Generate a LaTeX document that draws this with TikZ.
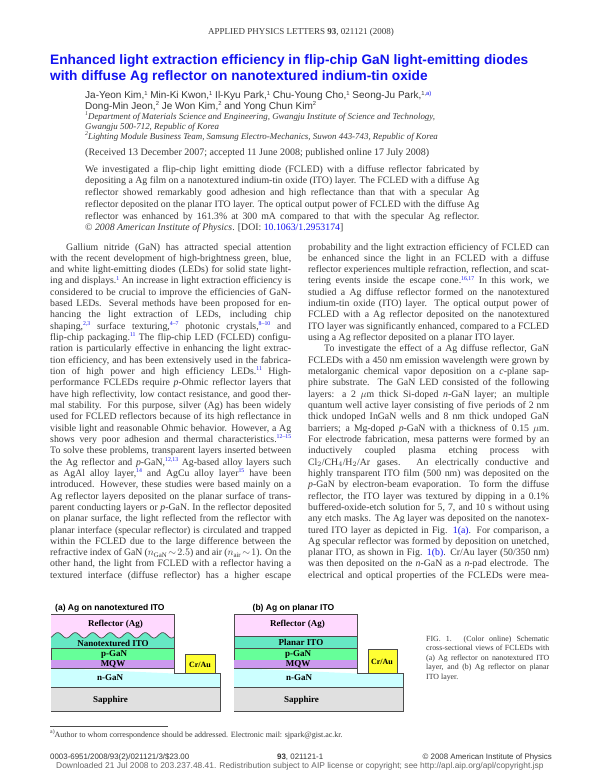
\documentclass[tikz,border=0pt]{standalone}
\usepackage{fontspec}
\setmainfont{Liberation Serif}
\setsansfont{Liberation Sans}
\usepackage{xcolor}
\usetikzlibrary{positioning,calc}
\definecolor{aipblue}{RGB}{20,20,240}
\definecolor{bodygray}{gray}{0.22}
\definecolor{reflpink}{RGB}{255,217,255}
\definecolor{itogreen}{RGB}{102,232,196}
\definecolor{pgangreen}{RGB}{102,255,153}
\definecolor{mqwpurple}{RGB}{204,153,238}
\definecolor{ngancyan}{RGB}{204,255,255}
\definecolor{sapphgray}{gray}{0.88}
\definecolor{padyellow}{RGB}{255,255,51}
\newcommand{\jl}[2][241pt]{\hbox to #1{\spaceskip=0pt\relax\xspaceskip=0pt\relax #2}}
\newcommand{\el}[1]{\hbox{\spaceskip=0pt\relax\xspaceskip=0pt\relax #1}}
\newcommand{\up}[1]{\raisebox{3.6pt}{\fontsize{5.8}{6}\selectfont #1}}
\newcommand{\rf}[1]{\up{\textcolor{aipblue}{#1}}}
\newcommand{\lk}[1]{\textcolor{aipblue}{#1}}
\lineskiplimit=-20pt
\tikzset{
  txt/.style={inner sep=0pt,anchor=base west,text=bodygray},
  column/.style={txt,text width=241pt,font=\fontsize{9.8}{11.32}\selectfont},
  abstr/.style={txt,text width=394pt,font=\fontsize{9.8}{11.75}\selectfont},
  capt/.style={txt,text width=123pt,font=\fontsize{7.85}{9.45}\selectfont},
  layer/.style={draw=black!70,line width=0.7pt},
  tag/.style={inner sep=0pt,text=black,font=\bfseries\fontsize{9}{10}\selectfont},
  padtag/.style={inner sep=0pt,text=black,font=\bfseries\fontsize{8}{9}\selectfont},
  figt/.style={inner sep=0pt,anchor=base west,text=black,font=\sffamily\bfseries\fontsize{8.5}{9}\selectfont}
}
\begin{document}
\begin{tikzpicture}[x=1pt,y=-1pt]
\useasboundingbox (0,0) rectangle (600,776);
\fill[white] (0,0) rectangle (600,776);
% head of the page
\node[txt,anchor=base,font=\fontsize{9}{10}\selectfont] (head) at (301,35) {APPLIED PHYSICS LETTERS \textbf{93}, 021121 (2008)};
\node[txt,text=aipblue,font=\sffamily\bfseries\fontsize{13.7}{16}\selectfont] (title1) at (50,64.5) {Enhanced light extraction efficiency in flip-chip GaN light-emitting diodes};
\node[txt,text=aipblue,font=\sffamily\bfseries\fontsize{13.7}{16}\selectfont] (title2) at (50,81) {with diffuse Ag reflector on nanotextured indium-tin oxide};
\node[txt,font=\sffamily\fontsize{10}{11}\selectfont] (auth1) at (85,99) {Ja-Yeon Kim,\up{1} Min-Ki Kwon,\up{1} Il-Kyu Park,\up{1} Chu-Young Cho,\up{1} Seong-Ju Park,\up{1,\textcolor{aipblue}{a)}}};
\node[txt,font=\sffamily\fontsize{10}{11}\selectfont] (auth2) at (85,109.5) {Dong-Min Jeon,\up{2} Je Won Kim,\up{2} and Yong Chun Kim\up{2}};
\node[txt,font=\itshape\fontsize{8.9}{10}\selectfont] (aff1) at (85,119.5) {\up{1}Department of Materials Science and Engineering, Gwangju Institute of Science and Technology,};
\node[txt,font=\itshape\fontsize{8.9}{10}\selectfont] (aff2) at (85,129) {Gwangju 500-712, Republic of Korea};
\node[txt,font=\itshape\fontsize{8.9}{10}\selectfont] (aff3) at (85,139) {\up{2}Lighting Module Business Team, Samsung Electro-Mechanics, Suwon 443-743, Republic of Korea};
\node[txt,font=\fontsize{10}{11}\selectfont] (recv) at (85,155.5) {(Received 13 December 2007; accepted 11 June 2008; published online 17 July 2008)};
\node[abstr] (abstract) at (85,172) {%
\jl[394pt]{We investigated a flip-chip light emitting diode (FCLED) with a diffuse reflector fabricated by}
\jl[394pt]{depositing a Ag film on a nanotextured indium-tin oxide (ITO) layer. The FCLED with a diffuse Ag}
\jl[394pt]{reflector showed remarkably good adhesion and high reflectance than that with a specular Ag}
\jl[394pt]{reflector deposited on the planar ITO layer. The optical output power of FCLED with the diffuse Ag}
\jl[394pt]{reflector was enhanced by 161.3\% at 300 mA compared to that with the specular Ag reflector.}
\el{\textcopyright\ \textit{2008 American Institute of Physics}. [DOI: \lk{10.1063/1.2953174}]}};
% left column
\node[column] (leftcol) at (50,250) {%
\jl{\hspace*{16pt}Gallium nitride (GaN) has attracted special attention}
\jl{with the recent development of high-brightness green, blue,}
\jl{and white light-emitting diodes (LEDs) for solid state light-}
\jl{ing and displays.\rf{1} An increase in light extraction efficiency is}
\jl{considered to be crucial to improve the efficiencies of GaN-}
\jl{based LEDs. Several methods have been proposed for en-}
\jl{hancing the light extraction of LEDs, including chip}
\jl{shaping,\rf{2,3} surface texturing,\rf{4--7} photonic crystals,\rf{8--10} and}
\jl{flip-chip packaging.\rf{11} The flip-chip LED (FCLED) configu-}
\jl{ration is particularly effective in enhancing the light extrac-}
\jl{tion efficiency, and has been extensively used in the fabrica-}
\jl{tion of high power and high efficiency LEDs.\rf{11} High-}
\jl{performance FCLEDs require \textit{p}-Ohmic reflector layers that}
\jl{have high reflectivity, low contact resistance, and good ther-}
\jl{mal stability. For this purpose, silver (Ag) has been widely}
\jl{used for FCLED reflectors because of its high reflectance in}
\jl{visible light and reasonable Ohmic behavior. However, a Ag}
\jl{shows very poor adhesion and thermal characteristics.\rf{12--15}}
\jl{To solve these problems, transparent layers inserted between}
\jl{the Ag reflector and \textit{p}-GaN,\rf{12,13} Ag-based alloy layers such}
\jl{as AgAl alloy layer,\rf{14} and AgCu alloy layer\rf{15} have been}
\jl{introduced. However, these studies were based mainly on a}
\jl{Ag reflector layers deposited on the planar surface of trans-}
\jl{parent conducting layers or \textit{p}-GaN. In the reflector deposited}
\jl{on planar surface, the light reflected from the reflector with}
\jl{planar interface (specular reflector) is circulated and trapped}
\jl{within the FCLED due to the large difference between the}
\jl{refractive index of GaN ($n_{\mathrm{GaN}}\!\sim\!2.5$) and air ($n_{\mathrm{air}}\!\sim\!1$). On the}
\jl{other hand, the light from FCLED with a reflector having a}
\jl{textured interface (diffuse reflector) has a higher escape}};
% right column
\node[column] (rightcol) at (308,250) {%
\jl{probability and the light extraction efficiency of FCLED can}
\jl{be enhanced since the light in an FCLED with a diffuse}
\jl{reflector experiences multiple refraction, reflection, and scat-}
\jl{tering events inside the escape cone.\rf{16,17} In this work, we}
\jl{studied a Ag diffuse reflector formed on the nanotextured}
\jl{indium-tin oxide (ITO) layer. The optical output power of}
\jl{FCLED with a Ag reflector deposited on the nanotextured}
\jl{ITO layer was significantly enhanced, compared to a FCLED}
\el{using a Ag reflector deposited on a planar ITO layer.}
\jl{\hspace*{16pt}To investigate the effect of a Ag diffuse reflector, GaN}
\jl{FCLEDs with a 450 nm emission wavelength were grown by}
\jl{metalorganic chemical vapor deposition on a \textit{c}-plane sap-}
\jl{phire substrate. The GaN LED consisted of the following}
\jl{layers: a 2 $\mu$m thick Si-doped \textit{n}-GaN layer; an multiple}
\jl{quantum well active layer consisting of five periods of 2 nm}
\jl{thick undoped InGaN wells and 8 nm thick undoped GaN}
\jl{barriers; a Mg-doped \textit{p}-GaN with a thickness of 0.15 $\mu$m.}
\jl{For electrode fabrication, mesa patterns were formed by an}
\jl{inductively coupled plasma etching process with}
\jl{Cl$_2$/CH$_4$/H$_2$/Ar gases. An electrically conductive and}
\jl{highly transparent ITO film (500 nm) was deposited on the}
\jl{\textit{p}-GaN by electron-beam evaporation. To form the diffuse}
\jl{reflector, the ITO layer was textured by dipping in a 0.1\%}
\jl{buffered-oxide-etch solution for 5, 7, and 10 s without using}
\jl{any etch masks. The Ag layer was deposited on the nanotex-}
\jl{tured ITO layer as depicted in Fig. \lk{1(a)}. For comparison, a}
\jl{Ag specular reflector was formed by deposition on unetched,}
\jl{planar ITO, as shown in Fig. \lk{1(b)}. Cr/Au layer (50/350 nm)}
\jl{was then deposited on the \textit{n}-GaN as a \textit{n}-pad electrode. The}
\jl{electrical and optical properties of the FCLEDs were mea-}};
% figure (a)
\node[figt] (figa) at (55,610) {(a) Ag on nanotextured ITO};
\coordinate (aTL) at (51,614.5);
\coordinate (aTR) at (174,614.5);
\coordinate (aST) at (174,673.5);
\coordinate (aNR) at (220,673.5);
\fill[reflpink] (aTL) rectangle (174,640);
\fill[itogreen,draw=none] plot[domain=51:174,samples=120] (\x,{635.3+2.7*cos((\x-49)/17.5*360)}) -- (174,648) -- (51,648) -- cycle;
\draw[layer] plot[domain=51:174,samples=120] (\x,{635.3+2.7*cos((\x-49)/17.5*360)});
\draw[layer,fill=pgangreen] (51,648) rectangle (174,660);
\fill[mqwpurple] (51,660.4) rectangle (174,667.6);
\fill[ngancyan] (51,668) -- (aST) -- (aNR) -- (220,687) -- (51,687) -- cycle;
\draw[layer] (51,668) -- (174,668) -- (aST) -- (aNR) -- (220,687);
\fill[sapphgray] (51,687) rectangle (220,711);
\draw[layer] (51,687) -- (220,687) -- (220,711) -- (51,711);
\draw[layer] (aTL) -- (aTR) -- (174,668);
\draw[layer,fill=padyellow] (185,654) rectangle (215,673.5);
\node[tag] (arefl) at (115.5,624.5) {Reflector (Ag)};
\node[tag] (aito) at (113,643) {Nanotextured ITO};
\node[tag] (apgan) at (114,654) {p-GaN};
\node[tag] (amqw) at (113,664) {MQW};
\node[tag] (angan) at (110,677.5) {n-GaN};
\node[tag] (asapph) at (110.5,700) {Sapphire};
\node[padtag] (apad) at (200,664.5) {Cr/Au};
% figure (b)
\node[figt] (figb) at (252.5,610) {(b) Ag on planar ITO};
\coordinate (bTL) at (234,614.5);
\coordinate (bTR) at (357,614.5);
\coordinate (bST) at (357,673.5);
\coordinate (bNR) at (403,673.5);
\draw[layer,fill=reflpink] (bTL) rectangle (357,636.5);
\draw[layer,fill=itogreen] (234,636.5) rectangle (357,648);
\draw[layer,fill=pgangreen] (234,648) rectangle (357,660);
\fill[mqwpurple] (234,660) rectangle (357,668);
\fill[ngancyan] (234,668) -- (bST) -- (bNR) -- (403,687) -- (234,687) -- cycle;
\draw[layer] (234,668) -- (357,668) -- (bST) -- (bNR) -- (403,687);
\fill[sapphgray] (234,687) rectangle (403,711);
\draw[layer] (234,687) -- (403,687) -- (403,711) -- (234,711);
\draw[layer] (bTR) -- (357,668);
\draw[layer,fill=padyellow] (368,649.5) rectangle (397,673.5);
\node[tag] (brefl) at (297.5,624.5) {Reflector (Ag)};
\node[tag] (bito) at (301,642.5) {Planar ITO};
\node[tag] (bpgan) at (298,654) {p-GaN};
\node[tag] (bmqw) at (298,664.5) {MQW};
\node[tag] (bngan) at (299,677.5) {n-GaN};
\node[tag] (bsapph) at (301.5,700) {Sapphire};
\node[padtag] (bpad) at (382,662) {Cr/Au};
% caption
\node[capt] (caption) at (426,641.5) {%
\jl[123pt]{FIG. 1. (Color online) Schematic}
\jl[123pt]{cross-sectional views of FCLEDs with}
\jl[123pt]{(a) Ag reflector on nanotextured ITO}
\jl[123pt]{layer, and (b) Ag reflector on planar}
\el{ITO layer.}};
% foot of the page
\draw[black!70,line width=0.5pt] (50,726) -- (168,726);
\node[txt,font=\fontsize{8}{10}\selectfont] (foot) at (50,737) {\up{a)}Author to whom correspondence should be addressed. Electronic mail: sjpark@gist.ac.kr.};
\node[txt,font=\sffamily\fontsize{7.9}{9}\selectfont] (issn) at (50,759.5) {0003-6951/2008/93(2)/021121/3/\$23.00};
\node[txt,font=\sffamily\fontsize{7.9}{9}\selectfont] (page) at (277,759.5) {\textbf{93}, 021121-1};
\node[txt,anchor=base east,font=\sffamily\fontsize{7.9}{9}\selectfont] (copy) at (552,759.5) {\textcopyright\ 2008 American Institute of Physics};
\node[txt,text=black!60,font=\sffamily\fontsize{8.4}{9}\selectfont] (dl) at (56,768) {Downloaded 21 Jul 2008 to 203.237.48.41. Redistribution subject to AIP license or copyright; see http://apl.aip.org/apl/copyright.jsp};
\end{tikzpicture}
\end{document}
